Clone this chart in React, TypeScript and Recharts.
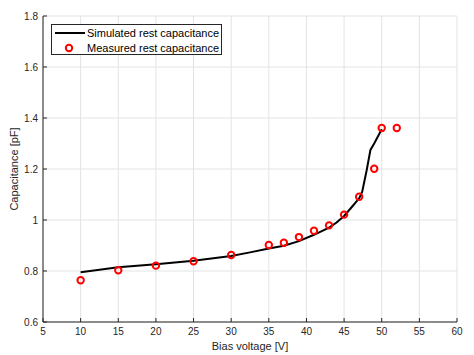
import React from 'react';
import {
  ComposedChart,
  Line,
  Scatter,
  XAxis,
  YAxis,
  CartesianGrid,
  Legend,
} from 'recharts';

// simulated rest capacitance (black line)
const simVoltage = [10, 15, 20, 25, 30, 32.5, 35, 37, 39, 41, 43, 44, 45, 46, 47, 47.4, 48, 48.5, 49, 50];
const simCap = [0.795, 0.815, 0.826, 0.84, 0.859, 0.873, 0.888, 0.899, 0.917, 0.942, 0.97, 0.99, 1.016, 1.05, 1.085, 1.11, 1.195, 1.275, 1.3, 1.356];

// measured rest capacitance (red circles)
const measVoltage = [10, 15, 20, 25, 30, 35, 37, 39, 41, 43, 45, 47, 49, 50, 52];
const measCap = [0.764, 0.803, 0.821, 0.838, 0.863, 0.902, 0.911, 0.933, 0.958, 0.979, 1.021, 1.091, 1.201, 1.361, 1.361];

const xTicks = [5, 10, 15, 20, 25, 30, 35, 40, 45, 50, 55, 60];
const yTicks = [0.6, 0.8, 1, 1.2, 1.4, 1.6, 1.8];

const simData = simVoltage.map((v, i) => ({ v, c: simCap[i] }));
const measData = measVoltage.map((v, i) => ({ v, c: measCap[i] }));

const axisColor = '#262626';
const font = 'Liberation Sans, Arial, sans-serif';

const fmt = (n: number) => String(Number(n.toFixed(1)));

const LegendBox = () => (
  <svg width={171} height={31} style={{ display: 'block' }}>
    <rect x={0.5} y={0.5} width={170} height={30} fill="#fff" stroke={axisColor} strokeWidth={1} />
    <line x1={4} y1={9} x2={34} y2={9} stroke="#000" strokeWidth={2} />
    <text x={36} y={13} fontSize={11} fontFamily={font} fill="#000">
      Simulated rest capacitance
    </text>
    <circle cx={18} cy={24} r={3.2} fill="none" stroke="#ff0000" strokeWidth={2} />
    <text x={36} y={28} fontSize={11} fontFamily={font} fill="#000">
      Measured rest capacitance
    </text>
  </svg>
);

export default function App() {
  return (
    <div style={{ position: 'absolute', left: 0, top: 0, background: '#fff' }}>
      <ComposedChart
        width={474}
        height={355}
        margin={{ top: 16, right: 17, left: 0, bottom: 0 }}
      >
        <CartesianGrid stroke="#e3e3e3" strokeWidth={1} />
        <XAxis
          dataKey="v"
          type="number"
          domain={[5, 60]}
          ticks={xTicks}
          allowDataOverflow
          height={33}
          tickSize={-4}
          tickMargin={10}
          stroke={axisColor}
          tick={{ fontSize: 10, fill: axisColor, fontFamily: font }}
          label={{
            value: 'Bias voltage [V]',
            position: 'insideBottom',
            offset: 5,
            fontSize: 11,
            fill: axisColor,
            fontFamily: font,
          }}
        />
        <XAxis
          xAxisId="top"
          orientation="top"
          type="number"
          domain={[5, 60]}
          ticks={xTicks}
          height={0}
          tickSize={-4}
          tick={false}
          stroke={axisColor}
          label={{
            value: 'Capacitance vs Bias voltage',
            position: 'top',
            offset: 3,
            fontSize: 10,
            fontWeight: 'bold',
            fill: '#000',
            fontFamily: font,
          }}
        />
        <YAxis
          dataKey="c"
          type="number"
          domain={[0.6, 1.8]}
          ticks={yTicks}
          allowDataOverflow
          width={43}
          tickSize={-4}
          tickMargin={9}
          tickFormatter={fmt}
          stroke={axisColor}
          tick={{ fontSize: 10, fill: axisColor, fontFamily: font }}
          label={{
            content: () => (
              <text
                x={15}
                y={169}
                transform="rotate(-90 15 169)"
                textAnchor="middle"
                dominantBaseline="middle"
                fontSize={11}
                fill={axisColor}
                fontFamily={font}
              >
                Capacitance [pF]
              </text>
            ),
          }}
        />
        <YAxis
          yAxisId="right"
          orientation="right"
          type="number"
          domain={[0.6, 1.8]}
          ticks={yTicks}
          width={0}
          tickSize={-4}
          tick={false}
          stroke={axisColor}
        />
        <Line
          data={simData}
          dataKey="c"
          type="linear"
          stroke="#000"
          strokeWidth={2}
          dot={false}
          name="Simulated rest capacitance"
          isAnimationActive={false}
        />
        <Scatter
          data={measData}
          dataKey="c"
          name="Measured rest capacitance"
          fill="none"
          stroke="#ff0000"
          strokeWidth={2}
          shape={(p: any) => (
            <circle cx={p.cx} cy={p.cy} r={3.2} fill="none" stroke="#ff0000" strokeWidth={2} />
          )}
          isAnimationActive={false}
        />
        <Legend
          layout="vertical"
          align="center"
          verticalAlign="middle"
          wrapperStyle={{ left: 51, top: 24, width: 171 }}
          content={() => <LegendBox />}
        />
      </ComposedChart>
    </div>
  );
}
